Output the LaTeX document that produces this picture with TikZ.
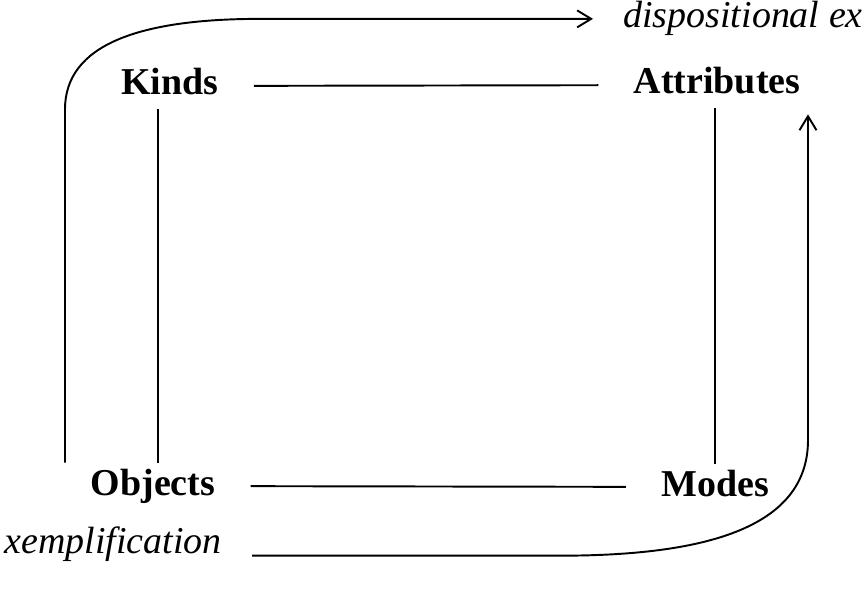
\documentclass[tikz,border=0pt]{standalone}
\usepackage{fontspec}
\setmainfont{Liberation Serif}
\usepackage{tikz}
\usetikzlibrary{arrows,arrows.meta}
\tikzstyle{cat} = [font=\fontsize{21.6}{26}\selectfont\bfseries, inner xsep=7mm,
    inner ysep=1.68mm, text height=4.72mm, text depth=1.12mm]
\tikzstyle{rel} = [font=\fontsize{21.6}{26}\selectfont\itshape, inner xsep=6mm, inner ysep=0mm]
\tikzstyle{link} = [line width=1.1pt, >={Straight Barb[length=2.8mm,width=3.4mm]}]

\begin{document}
\begin{tikzpicture}[x=0.2mm,y=-0.2mm]
    \useasboundingbox (0,0) rectangle (865,594);

    \node[cat,anchor=base] (Kinds) at (170,95) {Kinds};
    \node[cat,anchor=base] (Attributes) at (717,94) {Attributes};
    \node[cat,anchor=base] (Objects) at (153,495) {Objects};
    \node[cat,anchor=base] (Modes) at (715,496) {Modes};
    \node[rel,anchor=base west] (disp) at (593,28) {dispositional ex};
    \node[rel,anchor=base east] (exemp) at (252,553) {xemplification};
    \coordinate (up) at (65,0);
    \coordinate (bend) at (260,0);
    \coordinate (rise) at (808,440);

    % square
    \draw[link] (Kinds) -- (Attributes);
    \draw[link] (Objects) -- (Modes);
    \draw[link] ([xshift=-2.4mm]Kinds.south) -- ([xshift=-2.4mm]Kinds.south |- Objects.north);
    \draw[link] (Modes.north |- Attributes.south) -- (Modes.north);

    % exemplification
    \draw[link,->] (up |- Objects.north) -- (up |- Kinds.south)
      .. controls +(0,-65) and +(-120,0) .. (bend |- disp.west) -- (disp.west);
    \draw[link,->] ([yshift=-2.4mm]exemp.east) -- ++(308,0)
      .. controls +(140,0) and +(0,90) .. (rise) -- ([yshift=-1.2mm]rise |- Attributes.south);
\end{tikzpicture}
\end{document}
